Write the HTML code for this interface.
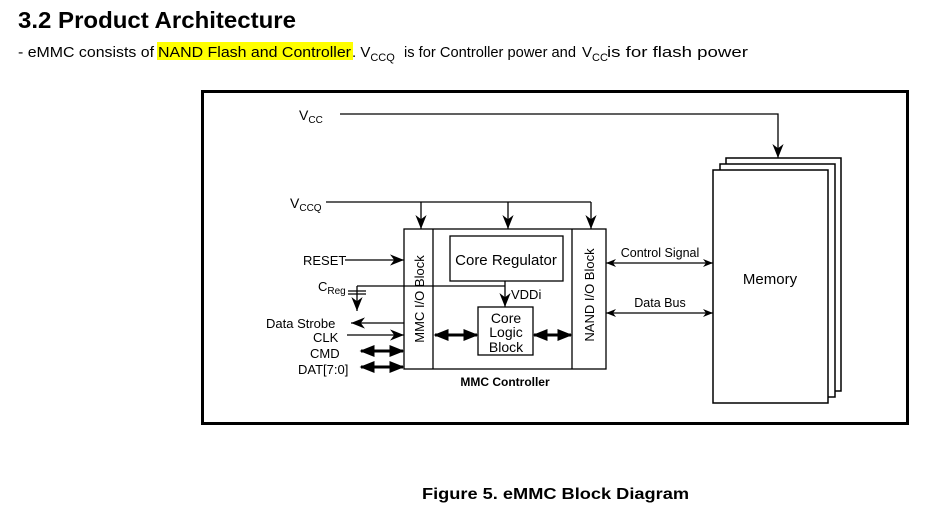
<!DOCTYPE html>
<html><head><meta charset="utf-8"><style>
html,body{margin:0;padding:0;background:#fff;width:945px;height:528px;overflow:hidden}
svg{display:block}
text{font-family:"Liberation Sans",Arial,sans-serif;fill:#000}
</style></head><body>
<svg width="945" height="528" viewBox="0 0 945 528" xmlns="http://www.w3.org/2000/svg">
<defs>
<marker id="a" viewBox="0 0 10 10" refX="10" refY="5" markerWidth="10" markerHeight="10" markerUnits="userSpaceOnUse" orient="auto-start-reverse"><path d="M0,1 L10,5 L0,9 L3,5Z" fill="#000"/></marker>
<marker id="b" viewBox="0 0 10 10" refX="10" refY="5" markerWidth="14" markerHeight="14" markerUnits="userSpaceOnUse" orient="auto-start-reverse"><path d="M0,1 L10,5 L0,9 L3,5Z" fill="#000"/></marker>
<marker id="t" viewBox="0 0 10 10" refX="9" refY="5" markerWidth="5" markerHeight="5" orient="auto-start-reverse"><path d="M0,1 L10,5 L0,9Z" fill="#000"/></marker>
</defs>
<text x="18" y="28" font-size="23" font-weight="bold" textLength="278" lengthAdjust="spacingAndGlyphs">3.2 Product Architecture</text>
<rect x="157" y="42" width="196" height="18" fill="#ffff00"/>
<text x="18" y="57" font-size="15" textLength="136" lengthAdjust="spacingAndGlyphs">- eMMC consists of</text>
<text x="158" y="57" font-size="15" textLength="193" lengthAdjust="spacingAndGlyphs">NAND Flash and Controller</text>
<text x="352" y="57" font-size="15">. V<tspan font-size="11" dy="4">CCQ</tspan></text>
<text x="404" y="57" font-size="15" textLength="172" lengthAdjust="spacingAndGlyphs">is for Controller power and</text>
<text x="582" y="57" font-size="15">V<tspan font-size="11" dy="4">CC</tspan></text>
<text x="607" y="57" font-size="15" textLength="141" lengthAdjust="spacingAndGlyphs">is for flash power</text>

<rect x="202.5" y="91.5" width="705" height="332" fill="none" stroke="#000" stroke-width="3"/>

<g fill="#fff" stroke="#000" stroke-width="1.5">
<rect x="726" y="158" width="115" height="233"/>
<rect x="720" y="164" width="115" height="233"/>
<rect x="713" y="170" width="115" height="233"/>
</g>
<text x="770" y="284" font-size="15" text-anchor="middle">Memory</text>

<g stroke="#000" stroke-width="1.3" fill="none">
<path d="M340 114 H778 V158" marker-end="url(#b)"/>
<path d="M326 202 H591"/>
<path d="M421 202 V229" marker-end="url(#b)"/>
<path d="M508 202 V229" marker-end="url(#b)"/>
<path d="M591 202 V229" marker-end="url(#b)"/>
<rect x="404" y="229" width="202" height="140"/>
<path d="M433 229 V369 M572 229 V369"/>
<rect x="450" y="236" width="113" height="45"/>
<rect x="478" y="307" width="55" height="48"/>
<path d="M345 260 H404" marker-end="url(#b)"/>
<path d="M357 286 H505"/>
<path d="M505 281 V307" marker-end="url(#b)"/>
<path d="M357 286 V311" marker-end="url(#b)"/>
<path d="M348 291 H366 M348 294 H366"/>
<path d="M404 323 H351" marker-end="url(#b)"/>
<path d="M347 335 H404" marker-end="url(#b)"/>
<path d="M606 263 H713" marker-start="url(#a)" marker-end="url(#a)"/>
<path d="M606 313 H713" marker-start="url(#a)" marker-end="url(#a)"/>
</g>
<g stroke="#000" stroke-width="3" fill="none">
<path d="M361 351 H403" marker-start="url(#t)" marker-end="url(#t)"/>
<path d="M361 367 H403" marker-start="url(#t)" marker-end="url(#t)"/>
<path d="M435 335 H477" marker-start="url(#t)" marker-end="url(#t)"/>
<path d="M534 335 H571" marker-start="url(#t)" marker-end="url(#t)"/>
</g>

<text x="299" y="120" font-size="14">V<tspan font-size="10" dy="3">CC</tspan></text>
<text x="290" y="208" font-size="14">V<tspan font-size="10" dy="3">CCQ</tspan></text>
<text x="303" y="265" font-size="13">RESET</text>
<text x="318" y="291" font-size="13">C<tspan font-size="10" dy="3">Reg</tspan></text>
<text x="266" y="328" font-size="13">Data Strobe</text>
<text x="313" y="342" font-size="13">CLK</text>
<text x="310" y="358" font-size="13">CMD</text>
<text x="298" y="374" font-size="13">DAT[7:0]</text>
<text x="506" y="265" font-size="15" text-anchor="middle">Core Regulator</text>
<text x="511" y="299" font-size="13">VDDi</text>
<text x="506" y="323" font-size="14" text-anchor="middle">Core</text>
<text x="506" y="337" font-size="14" text-anchor="middle">Logic</text>
<text x="506" y="352" font-size="14" text-anchor="middle">Block</text>
<text transform="translate(424,299) rotate(-90)" font-size="13" text-anchor="middle">MMC I/O Block</text>
<text transform="translate(594,295) rotate(-90)" font-size="13" text-anchor="middle">NAND I/O Block</text>
<text x="505" y="386" font-size="12" font-weight="bold" text-anchor="middle">MMC Controller</text>
<text x="660" y="257" font-size="12.5" text-anchor="middle">Control Signal</text>
<text x="660" y="307" font-size="12.5" text-anchor="middle">Data Bus</text>
<text x="422" y="499" font-size="16" font-weight="bold" textLength="267" lengthAdjust="spacingAndGlyphs">Figure 5.  eMMC Block Diagram</text>
</svg>
</body></html>
